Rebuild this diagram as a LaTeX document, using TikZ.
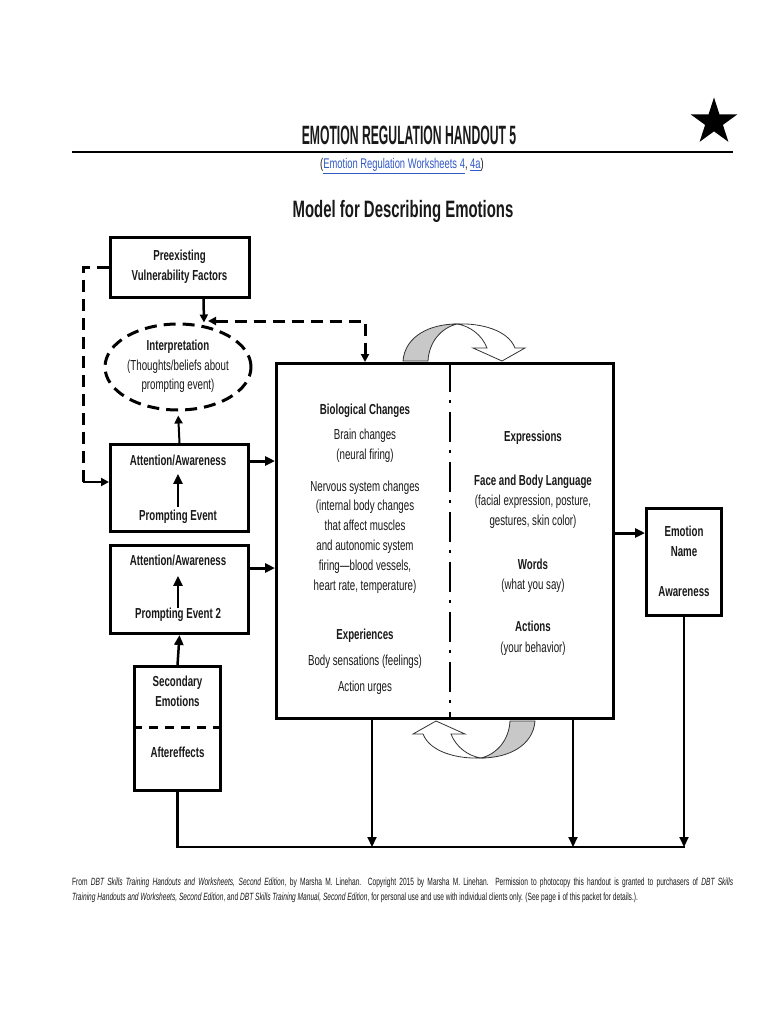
\documentclass[tikz,border=0pt]{standalone}
\usepackage{fontspec}
\setmainfont{Liberation Sans}[FakeStretch=0.67]
\newfontfamily\titlefont{Liberation Sans}[FakeStretch=0.46]
\newfontfamily\modelfont{Liberation Sans}[FakeStretch=0.63]
\newfontfamily\footfont{Liberation Sans}[FakeStretch=0.63]
\usetikzlibrary{shapes.geometric,arrows.meta}
\definecolor{linkblue}{RGB}{50,90,200}
\definecolor{ink}{RGB}{25,25,25}
\definecolor{ribbon}{RGB}{200,200,200}
\tikzset{
  body/.style={font=\fontsize{14.5}{20}\selectfont, text=ink, inner sep=0pt, text height=10.5pt, text depth=3pt},
  bodyb/.style={font=\fontsize{14.5}{20}\selectfont\bfseries, text=ink, inner sep=0pt, text height=10.5pt, text depth=3pt},
  box/.style={draw=black, line width=3pt, inner sep=0pt},
  dashline/.style={line width=3pt, dash pattern=on 12pt off 7pt},
  arr/.style={-{Triangle[length=10pt,width=9pt]}},
  arrs/.style={-{Triangle[length=8pt,width=8pt]}},
  rib/.style={draw=black!80, line width=0.8pt},
}
\newcommand{\drawribbon}{%
  \filldraw[rib, fill=ribbon] (403,361) .. controls (405,336) and (430,324) .. (457,324) .. controls (441,328) and (429,342) .. (428,361) -- cycle;
  \filldraw[rib, fill=white] (457,324) .. controls (481,323) and (508,330) .. (515,348) -- (525,348) -- (502,361) -- (473,348) -- (487,348) .. controls (482,335) and (470,326) .. (457,324) -- cycle;
}
\begin{document}
\begin{tikzpicture}[x=1pt,y=-1pt]
\useasboundingbox (0,0) rectangle (768,1024);
\fill[white] (0,0) rectangle (768,1024);

% header
\node[star, star points=5, star point ratio=2.618, fill=black, minimum size=49pt, inner sep=0pt] (star) at (714,122) {};
\node[font={\titlefont\fontsize{26.5}{30}\selectfont\bfseries}, text=ink, inner sep=0pt] (title) at (409,135) {EMOTION REGULATION HANDOUT 5};
\coordinate (hl) at (72,152);
\coordinate (hr) at (733,152);
\draw[line width=2pt] (hl) -- (hr);
\node[font=\fontsize{14}{16}\selectfont, text=ink, inner sep=0pt] (link) at (402,166) {(\textcolor{linkblue}{\underline{Emotion Regulation Worksheets 4}}, \textcolor{linkblue}{\underline{4a}})};
\node[font={\modelfont\fontsize{23.7}{28}\selectfont\bfseries}, text=ink, inner sep=0pt] (model) at (403,211) {Model for Describing Emotions};

% ribbons
\drawribbon
\begin{scope}[rotate around={180:(469,541)}]
\drawribbon
\end{scope}

% boxes
\node[box, minimum width=139pt, minimum height=60pt] (pre) at (179.5,267) {};
\node[bodyb] (preA) at (179.5,257) {Preexisting};
\node[bodyb] (preB) at (179.5,277) {Vulnerability Factors};

\node[ellipse, draw, dashline, minimum width=146pt, minimum height=86pt, inner sep=0pt] (interp) at (178,367) {};
\node[bodyb] (intA) at (178,347) {Interpretation};
\node[body] (intB) at (178,367) {(Thoughts/beliefs about};
\node[body] (intC) at (178,386) {prompting event)};

\node[box, minimum width=138pt, minimum height=87pt] (att1) at (179.5,488) {};
\node[bodyb] (att1t) at (178,462) {Attention/Awareness};
\node[bodyb] (pe1) at (178,517) {Prompting Event};

\node[box, minimum width=138pt, minimum height=88pt] (att2) at (179.5,589.5) {};
\node[bodyb] (att2t) at (178,562) {Attention/Awareness};
\node[bodyb] (pe2) at (178,615) {Prompting Event 2};

\node[box, minimum width=86pt, minimum height=124pt] (sec) at (177.5,728.5) {};
\node[bodyb] (secA) at (177.5,683) {Secondary};
\node[bodyb] (secB) at (177.5,703) {Emotions};
\node[bodyb] (secC) at (177.5,754) {Aftereffects};
\draw[line width=3pt, dash pattern=on 9pt off 7pt] ([yshift=1.5pt]sec.west) -- ([yshift=1.5pt]sec.east);

\node[box, minimum width=337pt, minimum height=355pt] (big) at (445,541) {};
\draw[line width=2pt, dash pattern=on 30pt off 8pt on 3pt off 9pt] ([xshift=5pt]big.north) -- ([xshift=5pt]big.south);

% left column
\node[bodyb] (l1) at (365,411) {Biological Changes};
\node[body] (l2) at (365,436) {Brain changes};
\node[body] (l3) at (365,456) {(neural firing)};
\node[body] (l4) at (365,488) {Nervous system changes};
\node[body] (l5) at (365,507) {(internal body changes};
\node[body] (l6) at (365,527) {that affect muscles};
\node[body] (l7) at (365,547) {and autonomic system};
\node[body] (l8) at (365,567) {firing—blood vessels,};
\node[body] (l9) at (365,587) {heart rate, temperature)};
\node[bodyb] (l10) at (365,636) {Experiences};
\node[body] (l11) at (365,662) {Body sensations (feelings)};
\node[body] (l12) at (365,688) {Action urges};

% right column
\node[bodyb] (r1) at (533,438) {Expressions};
\node[bodyb] (r2) at (533,482) {Face and Body Language};
\node[body] (r3) at (533,502) {(facial expression, posture,};
\node[body] (r4) at (533,522) {gestures, skin color)};
\node[bodyb] (r5) at (533,566) {Words};
\node[body] (r6) at (533,586) {(what you say)};
\node[bodyb] (r7) at (533,628) {Actions};
\node[body] (r8) at (533,649) {(your behavior)};

\node[box, minimum width=75pt, minimum height=107pt] (emo) at (684,562) {};
\node[bodyb] (emoA) at (684,533) {Emotion};
\node[bodyb] (emoB) at (684,553) {Name};
\node[bodyb] (emoC) at (684,593) {Awareness};

% connectors
\draw[arrs, line width=2.5pt] ([xshift=24pt]pre.south) -- ([xshift=26pt]interp.north);
\coordinate (lc) at (83,482);
\draw[dashline] (pre.west) -| (lc);
\draw[arrs, line width=2.5pt] (lc) -- (lc -| att1.west);
\coordinate (tl) at (208,321);
\coordinate (tc) at (365,321);
\draw[dashline, {Triangle[length=8pt,width=8pt]}-{Triangle[length=8pt,width=8pt]}] (tl) -- (tc) -- (tc |- big.north);
\draw[arrs, line width=2pt, shorten >=4pt] (att1.north) -- (interp.south);
\draw[arr, line width=2.5pt, shorten <=3pt, shorten >=5pt] (pe1.north) -- (att1t.south);
\draw[arr, line width=2.5pt, shorten <=0pt, shorten >=7pt] (pe2.north) -- (att2t.south);
\coordinate (a1s) at ([yshift=27pt]att1.east);
\draw[arr, line width=3pt] (a1s) -- (a1s -| big.west);
\coordinate (a2s) at ([yshift=21.5pt]att2.east);
\draw[arr, line width=3pt] (a2s) -- (a2s -| big.west);
\draw[arr, line width=2.5pt] (sec.north) -- (att2.south);
\draw[arr, line width=3pt] (emoA -| big.east) -- (emoA -| emo.west);

\coordinate (fb) at (177.5,847);
\coordinate (fbR) at (685,847);
\draw[line width=2.5pt] (sec.south) -- (fb) -- (fbR);
\coordinate (b1) at ([xshift=-73pt]big.south);
\coordinate (b2) at ([xshift=128pt]big.south);
\draw[arr, line width=2pt] (b1) -- (b1 |- fb);
\draw[arr, line width=2pt] (b2) -- (b2 |- fb);
\draw[arr, line width=2pt] (emo.south) -- (emo.south |- fb);

% footer
\node[anchor=west, font={\footfont\fontsize{10.5}{13}\selectfont}, text=ink, inner sep=0pt] (foot1) at (72,883) {\makebox[661pt][s]{From \textit{DBT Skills Training Handouts and Worksheets, Second Edition}, by Marsha M. Linehan. Copyright 2015 by Marsha M. Linehan. Permission to photocopy this handout is granted to purchasers of \textit{DBT Skills}}};
\node[anchor=west, font={\footfont\fontsize{10.5}{13}\selectfont}, text=ink, inner sep=0pt] (foot2) at (72,898) {\textit{Training Handouts and Worksheets, Second Edition}, and \textit{DBT Skills Training Manual, Second Edition}, for personal use and use with individual clients only. (See page ii of this packet for details.).};
\end{tikzpicture}
\end{document}
